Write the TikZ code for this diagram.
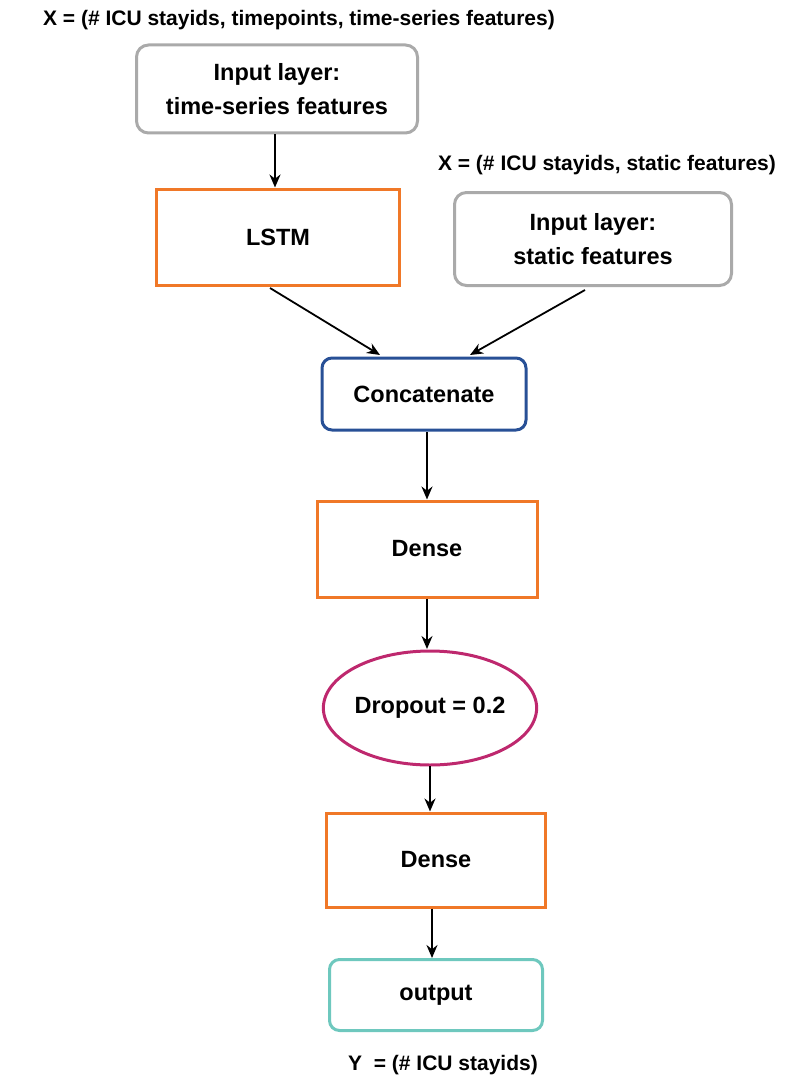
\documentclass[tikz,border=0pt]{standalone}
\usepackage{fontspec}
\setmainfont{Liberation Sans}
\usetikzlibrary{arrows.meta,shapes.geometric}
\definecolor{boxgray}{RGB}{170,170,170}
\definecolor{lorange}{RGB}{240,120,40}
\definecolor{lblue}{RGB}{40,80,150}
\definecolor{lmag}{RGB}{190,40,110}
\definecolor{lteal}{RGB}{110,200,190}
\begin{document}
\begin{tikzpicture}[x=1pt,y=-1pt,
  box/.style={draw, line width=3pt, font=\fontsize{23.5}{28}\selectfont\bfseries, align=center, inner sep=0pt},
  layer/.style={box, lorange, text=black, minimum width=#1},
  inp/.style={box, boxgray, text=black, rounded corners=12pt},
  lab/.style={font=\fontsize{21}{25}\selectfont\bfseries},
  arr/.style={-{Stealth[length=13pt,width=11pt]}, line width=1.8pt}]
\useasboundingbox (0,0) rectangle (790,1089);
\node[lab] (tlab) at (299,20) {X = (\# ICU stayids, timepoints, time-series features)};
\node[inp, minimum width=281, minimum height=88] (ints) at (277,89) {Input layer:\\[6pt]time-series features};
\node[layer=243, minimum height=96] (lstm) at (278,237) {LSTM};
\node[lab] (slab) at (607,165) {X = (\# ICU stayids, static features)};
\node[inp, minimum width=277, minimum height=93] (inst) at (593,239) {Input layer:\\[6pt]static features};
\node[box, lblue, text=black, rounded corners=10pt, minimum width=204, minimum height=72] (cat) at (424,394) {Concatenate};
\node[layer=220, minimum height=96] (d1) at (427,549) {Dense};
\node[box, lmag, text=black, ellipse, minimum width=198, minimum height=114] (drop) at (430,708) {Dropout = 0.2};
\node[layer=219, minimum height=94] (d2) at (436,860) {Dense};
\node[box, lteal, text=black, rounded corners=10pt, minimum width=213, minimum height=71] (out) at (436,995) {output};
\node[lab] (ylab) at (443,1065) {Y \ = (\# ICU stayids)};
\draw[arr] (ints.south -| 275,0) -- (lstm.north -| 275,0);
\draw[arr] (270,288) -- (380,355);
\draw[arr] (585,290) -- (470,355);
\draw[arr] (427,432) -- (d1.north -| 427,0);
\draw[arr] (d1.south -| 427,0) -- (427,649);
\draw[arr] (430,766) -- (d2.north -| 430,0);
\draw[arr] (d2.south -| 432,0) -- (out.north -| 432,0);
\end{tikzpicture}
\end{document}
